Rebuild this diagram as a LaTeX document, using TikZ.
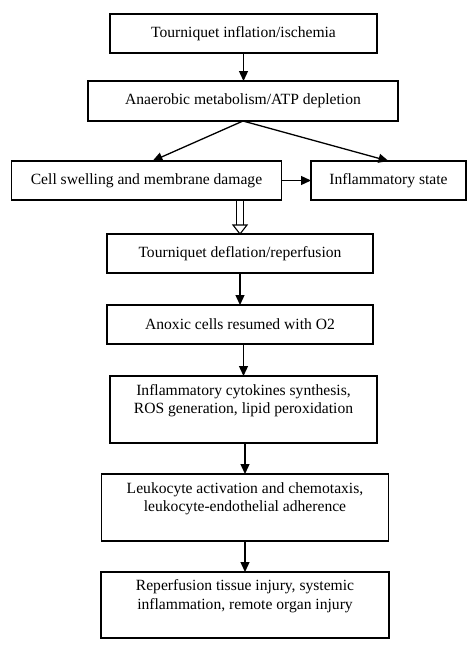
\documentclass[tikz,border=0pt]{standalone}
\usepackage{fontspec}
\setmainfont{Liberation Serif}
\usetikzlibrary{arrows.meta,calc}
\begin{document}
\begin{tikzpicture}[x=1pt,y=-1pt,
  box/.style={draw=black, line width=1.4pt, rectangle, inner sep=0pt, outer sep=0pt,
    align=center, font=\fontsize{15.6}{18.5}\selectfont},
  tallbox/.style={box, text depth=21pt},
  arr/.style={line width=1.3pt, -{Triangle[length=10pt,width=9pt]}},
  hollow/.style={line width=1.1pt, line join=miter}]
\useasboundingbox (0,0) rectangle (474,651);
\node[box, minimum width=267pt, minimum height=39pt] (b1) at (243.5,33.5) {Tourniquet inflation/ischemia};
\node[box, minimum width=310pt, minimum height=40pt] (b2) at (243,101) {Anaerobic metabolism/ATP depletion};
\node[box, minimum width=270pt, minimum height=39pt] (b3) at (146.5,180.5) {Cell swelling and membrane damage};
\node[box, minimum width=155pt, minimum height=39pt] (b4) at (388.5,180.5) {Inflammatory state};
\node[box, minimum width=266pt, minimum height=39pt] (b5) at (240,253.5) {Tourniquet deflation/reperfusion};
\node[box, minimum width=266pt, minimum height=39pt] (b6) at (240,324.5) {Anoxic cells resumed with O2};
\node[tallbox, minimum width=267pt, minimum height=67pt] (b7) at (243.5,409.5) {Inflammatory cytokines synthesis,\\ROS generation, lipid peroxidation};
\node[tallbox, minimum width=287pt, minimum height=67pt] (b8) at (245,507.5) {Leukocyte activation and chemotaxis,\\leukocyte-endothelial adherence};
\node[tallbox, minimum width=288pt, minimum height=66pt] (b9) at (245,605) {Reperfusion tissue injury, systemic\\inflammation, remote organ injury};
% connectors
\draw[arr] (b1.south) -- (b1.south |- b2.north);
\draw[arr] (b2.south) -- ([xshift=6pt]b3.north);
\draw[arr] (b2.south) -- (b4.north);
\draw[arr] (b3.east) -- (b4.west);
\coordinate (hl) at ($(b5.north)+(-3.5,-9)$);
\coordinate (hr) at ($(b5.north)+(3.5,-9)$);
\draw[hollow] (hl |- b3.south) -- (hl);
\draw[hollow] (hr |- b3.south) -- (hr);
\draw[hollow] ($(b5.north)+(-7,-9)$) -- ($(b5.north)+(7,-9)$) -- (b5.north) -- cycle;
\draw[arr] (b5.south) -- (b6.north);
\draw[arr] (b7.north |- b6.south) -- (b7.north);
\draw[arr] (b8.north |- b7.south) -- (b8.north);
\draw[arr] (b8.south) -- (b9.north);
\end{tikzpicture}
\end{document}
